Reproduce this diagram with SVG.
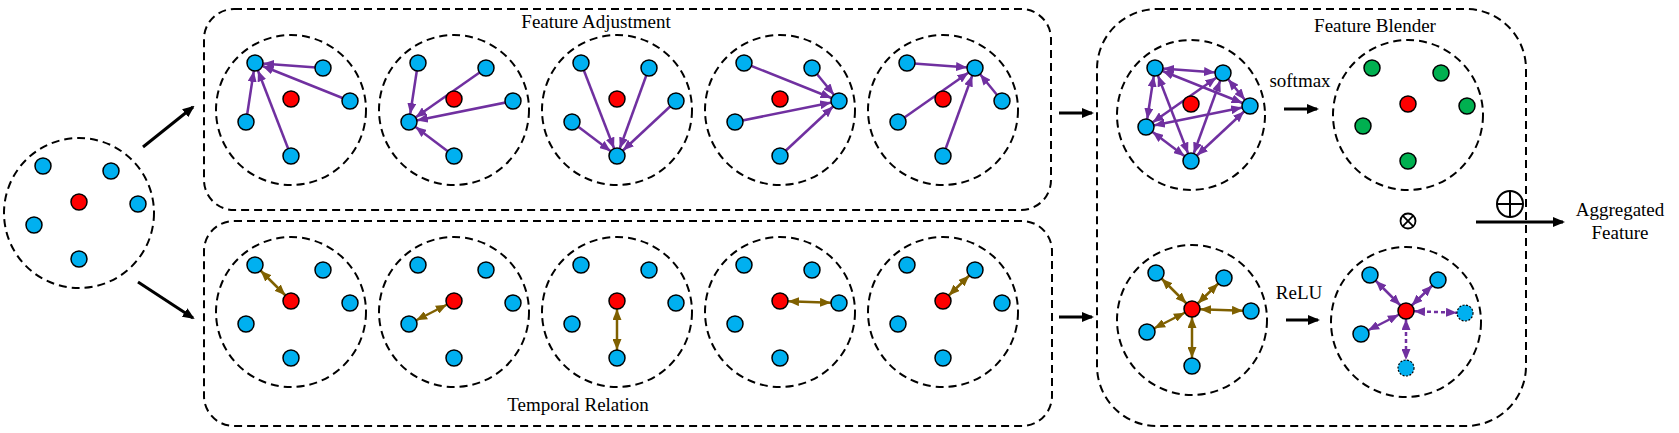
<svg xmlns="http://www.w3.org/2000/svg" width="1679" height="433" viewBox="0 0 1679 433">
<style>
.d{fill:none;stroke:#000;stroke-width:2;stroke-dasharray:8 5}
.b{fill:#00b0f0;stroke:#000;stroke-width:1.5}
.r{fill:#ff0000;stroke:#000;stroke-width:1.5}
.g{fill:#00b050;stroke:#000;stroke-width:1.5}
.bd{fill:#00b0f0;stroke:#000;stroke-width:1.2;stroke-dasharray:2 1.5}
.p{stroke:#7030a0;stroke-width:2.5;fill:none;marker-end:url(#pa)}
.pp{stroke:#7030a0;stroke-width:2.5;fill:none;marker-end:url(#pa);marker-start:url(#pa)}
.pd{stroke:#7030a0;stroke-width:2.5;fill:none;stroke-dasharray:4 3;marker-end:url(#pa);marker-start:url(#pa)}
.o{stroke:#7f6000;stroke-width:2.5;fill:none;marker-end:url(#oa);marker-start:url(#oa)}
.k{stroke:#000;stroke-width:3;fill:none;marker-end:url(#ka)}
text{font-family:"Liberation Serif","Times New Roman",serif;font-size:19px;fill:#000;text-anchor:middle}
</style>
<defs>
<marker id="pa" markerUnits="userSpaceOnUse" markerWidth="11" markerHeight="9" refX="19" refY="4.5" orient="auto-start-reverse"><path d="M0,0 L11,4.5 L0,9 z" fill="#7030a0"/></marker>
<marker id="oa" markerUnits="userSpaceOnUse" markerWidth="11" markerHeight="9" refX="19" refY="4.5" orient="auto-start-reverse"><path d="M0,0 L11,4.5 L0,9 z" fill="#7f6000"/></marker>
<marker id="ka" markerUnits="userSpaceOnUse" markerWidth="12" markerHeight="10" refX="10" refY="5" orient="auto"><path d="M0,0 L12,5 L0,10 z" fill="#000"/></marker>
</defs>

<g id="boxes">
<rect id="adjust-box" class="d" x="204" y="9" width="847" height="201" rx="30"/>
<rect id="temporal-box" class="d" x="204" y="221" width="848" height="205" rx="30"/>
<rect id="blender-box" class="d" x="1097" y="9" width="429" height="417" rx="60"/>
<text x="596" y="28">Feature Adjustment</text>
<text x="578" y="411">Temporal Relation</text>
<text x="1375" y="32">Feature Blender</text>
<text x="1300" y="87">softmax</text>
<text x="1299" y="299">ReLU</text>
<text x="1620" y="216">Aggregated</text>
<text x="1620" y="239">Feature</text>
</g>

<g id="connectors">
<path class="k" d="M143,147 L193,107"/>
<path class="k" d="M138,282 L193,318"/>
<path class="k" d="M1059,113 L1092,113"/>
<path class="k" d="M1059,317 L1092,317"/>
<path class="k" d="M1284,109 L1317,109"/>
<path class="k" d="M1286,320 L1318,320"/>
<path class="k" d="M1476,222 L1563,222"/>
<!-- C1 to TL -->
<path class="p" d="M323,68 L255,63"/><path class="p" d="M350,101 L255,63"/><path class="p" d="M246,122 L255,63"/><path class="p" d="M291,156 L255,63"/>
<!-- C2 to L -->
<path class="p" d="M418,63 L409,122"/><path class="p" d="M486,68 L409,122"/><path class="p" d="M513,101 L409,122"/><path class="p" d="M454,156 L409,122"/>
<!-- C3 to B -->
<path class="p" d="M581,63 L617,156"/><path class="p" d="M649,68 L617,156"/><path class="p" d="M676,101 L617,156"/><path class="p" d="M572,122 L617,156"/>
<!-- C4 to R -->
<path class="p" d="M744,63 L839,101"/><path class="p" d="M812,68 L839,101"/><path class="p" d="M735,122 L839,101"/><path class="p" d="M780,156 L839,101"/>
<!-- C5 to TR -->
<path class="p" d="M907,63 L975,68"/><path class="p" d="M898,122 L975,68"/><path class="p" d="M1002,101 L975,68"/><path class="p" d="M943,156 L975,68"/>
<!-- bottom row -->
<path class="o" d="M255,265 L291,301"/>
<path class="o" d="M409,324 L454,301"/>
<path class="o" d="M617,301 L617,358"/>
<path class="o" d="M780,301 L839,303"/>
<path class="o" d="M943,301 L975,270"/>
<!-- blender full graph -->
<path class="pp" d="M1155,68 L1223,73"/><path class="pp" d="M1155,68 L1250,106"/><path class="pp" d="M1155,68 L1146,127"/><path class="pp" d="M1155,68 L1191,161"/>
<path class="pp" d="M1223,73 L1146,127"/><path class="pp" d="M1223,73 L1250,106"/><path class="pp" d="M1223,73 L1191,161"/>
<path class="pp" d="M1250,106 L1146,127"/><path class="pp" d="M1250,106 L1191,161"/><path class="pp" d="M1146,127 L1191,161"/>
<!-- relu in -->
<path class="o" d="M1192,309 L1156,273"/><path class="o" d="M1192,309 L1224,278"/><path class="o" d="M1192,309 L1251,311"/><path class="o" d="M1192,309 L1147,332"/><path class="o" d="M1192,309 L1192,366"/>
<!-- relu out -->
<path class="pp" d="M1406,311 L1370,275"/><path class="pp" d="M1406,311 L1438,280"/><path class="pp" d="M1406,311 L1361,334"/>
<path class="pd" d="M1406,311 L1465,313"/><path class="pd" d="M1406,311 L1406,368"/>
</g>

<g id="ops">
<circle cx="1510" cy="204" r="13" fill="none" stroke="#000" stroke-width="2"/>
<path d="M1497,204 H1523 M1510,191 V217" stroke="#000" stroke-width="2"/>
<circle cx="1408" cy="221" r="7.5" fill="none" stroke="#000" stroke-width="1.8"/>
<path d="M1402.7,215.7 L1413.3,226.3 M1413.3,215.7 L1402.7,226.3" stroke="#000" stroke-width="1.8"/>
</g>

<g id="input"><ellipse class="d" cx="79" cy="213" rx="75" ry="75"/>
<circle class="b" cx="43" cy="166" r="8"/><circle class="b" cx="111" cy="171" r="8"/><circle class="b" cx="138" cy="204" r="8"/><circle class="b" cx="34" cy="225" r="8"/><circle class="b" cx="79" cy="259" r="8"/><circle class="r" cx="79" cy="202" r="8"/></g>

<g id="adj1"><ellipse class="d" cx="291" cy="110" rx="75" ry="75"/>
<circle class="b" cx="255" cy="63" r="8"/><circle class="b" cx="323" cy="68" r="8"/><circle class="b" cx="350" cy="101" r="8"/><circle class="b" cx="246" cy="122" r="8"/><circle class="b" cx="291" cy="156" r="8"/><circle class="r" cx="291" cy="99" r="8"/></g>
<g id="adj2"><ellipse class="d" cx="454" cy="110" rx="75" ry="75"/>
<circle class="b" cx="418" cy="63" r="8"/><circle class="b" cx="486" cy="68" r="8"/><circle class="b" cx="513" cy="101" r="8"/><circle class="b" cx="409" cy="122" r="8"/><circle class="b" cx="454" cy="156" r="8"/><circle class="r" cx="454" cy="99" r="8"/></g>
<g id="adj3"><ellipse class="d" cx="617" cy="110" rx="75" ry="75"/>
<circle class="b" cx="581" cy="63" r="8"/><circle class="b" cx="649" cy="68" r="8"/><circle class="b" cx="676" cy="101" r="8"/><circle class="b" cx="572" cy="122" r="8"/><circle class="b" cx="617" cy="156" r="8"/><circle class="r" cx="617" cy="99" r="8"/></g>
<g id="adj4"><ellipse class="d" cx="780" cy="110" rx="75" ry="75"/>
<circle class="b" cx="744" cy="63" r="8"/><circle class="b" cx="812" cy="68" r="8"/><circle class="b" cx="839" cy="101" r="8"/><circle class="b" cx="735" cy="122" r="8"/><circle class="b" cx="780" cy="156" r="8"/><circle class="r" cx="780" cy="99" r="8"/></g>
<g id="adj5"><ellipse class="d" cx="943" cy="110" rx="75" ry="75"/>
<circle class="b" cx="907" cy="63" r="8"/><circle class="b" cx="975" cy="68" r="8"/><circle class="b" cx="1002" cy="101" r="8"/><circle class="b" cx="898" cy="122" r="8"/><circle class="b" cx="943" cy="156" r="8"/><circle class="r" cx="943" cy="99" r="8"/></g>

<g id="tmp1"><ellipse class="d" cx="291" cy="312" rx="75" ry="75"/>
<circle class="b" cx="255" cy="265" r="8"/><circle class="b" cx="323" cy="270" r="8"/><circle class="b" cx="350" cy="303" r="8"/><circle class="b" cx="246" cy="324" r="8"/><circle class="b" cx="291" cy="358" r="8"/><circle class="r" cx="291" cy="301" r="8"/></g>
<g id="tmp2"><ellipse class="d" cx="454" cy="312" rx="75" ry="75"/>
<circle class="b" cx="418" cy="265" r="8"/><circle class="b" cx="486" cy="270" r="8"/><circle class="b" cx="513" cy="303" r="8"/><circle class="b" cx="409" cy="324" r="8"/><circle class="b" cx="454" cy="358" r="8"/><circle class="r" cx="454" cy="301" r="8"/></g>
<g id="tmp3"><ellipse class="d" cx="617" cy="312" rx="75" ry="75"/>
<circle class="b" cx="581" cy="265" r="8"/><circle class="b" cx="649" cy="270" r="8"/><circle class="b" cx="676" cy="303" r="8"/><circle class="b" cx="572" cy="324" r="8"/><circle class="b" cx="617" cy="358" r="8"/><circle class="r" cx="617" cy="301" r="8"/></g>
<g id="tmp4"><ellipse class="d" cx="780" cy="312" rx="75" ry="75"/>
<circle class="b" cx="744" cy="265" r="8"/><circle class="b" cx="812" cy="270" r="8"/><circle class="b" cx="839" cy="303" r="8"/><circle class="b" cx="735" cy="324" r="8"/><circle class="b" cx="780" cy="358" r="8"/><circle class="r" cx="780" cy="301" r="8"/></g>
<g id="tmp5"><ellipse class="d" cx="943" cy="312" rx="75" ry="75"/>
<circle class="b" cx="907" cy="265" r="8"/><circle class="b" cx="975" cy="270" r="8"/><circle class="b" cx="1002" cy="303" r="8"/><circle class="b" cx="898" cy="324" r="8"/><circle class="b" cx="943" cy="358" r="8"/><circle class="r" cx="943" cy="301" r="8"/></g>

<g id="blend"><ellipse class="d" cx="1191" cy="115" rx="74" ry="75"/>
<circle class="b" cx="1155" cy="68" r="8"/><circle class="b" cx="1223" cy="73" r="8"/><circle class="b" cx="1250" cy="106" r="8"/><circle class="b" cx="1146" cy="127" r="8"/><circle class="b" cx="1191" cy="161" r="8"/><circle class="r" cx="1191" cy="104" r="8"/></g>
<g id="softmax-out"><ellipse class="d" cx="1408" cy="115" rx="75" ry="75"/>
<circle class="g" cx="1372" cy="68" r="8"/><circle class="g" cx="1441" cy="73" r="8"/><circle class="g" cx="1467" cy="106" r="8"/><circle class="g" cx="1363" cy="126" r="8"/><circle class="g" cx="1408" cy="161" r="8"/><circle class="r" cx="1408" cy="104" r="8"/></g>
<g id="relu-in"><ellipse class="d" cx="1192" cy="320" rx="75" ry="75"/>
<circle class="b" cx="1156" cy="273" r="8"/><circle class="b" cx="1224" cy="278" r="8"/><circle class="b" cx="1251" cy="311" r="8"/><circle class="b" cx="1147" cy="332" r="8"/><circle class="b" cx="1192" cy="366" r="8"/><circle class="r" cx="1192" cy="309" r="8"/></g>
<g id="relu-out"><ellipse class="d" cx="1406" cy="322" rx="75" ry="75"/>
<circle class="b" cx="1370" cy="275" r="8"/><circle class="b" cx="1438" cy="280" r="8"/><circle class="bd" cx="1465" cy="313" r="8"/><circle class="b" cx="1361" cy="334" r="8"/><circle class="bd" cx="1406" cy="368" r="8"/><circle class="r" cx="1406" cy="311" r="8"/></g>
</svg>
